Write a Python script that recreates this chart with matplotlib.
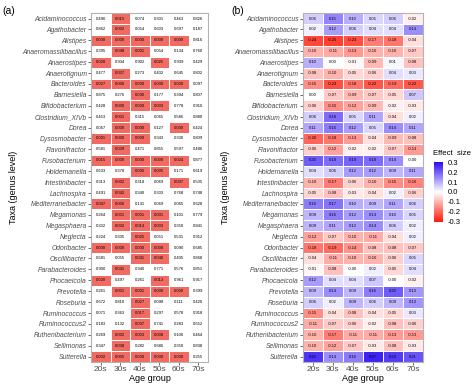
import numpy as np
import matplotlib
matplotlib.use("Agg")
from matplotlib import pyplot as plt
from matplotlib.colors import LinearSegmentedColormap, ListedColormap, Normalize

plt.rcParams["font.family"] = ["Liberation Sans", "DejaVu Sans"]

taxa = ["Acidaminococcus", "Agathobacter", "Alistipes", "Anaeromassilibacillus",
        "Anaerostipes", "Anaerotignum", "Bacteroides", "Barnesiella",
        "Bifidobacterium", "Clostridium_XIVb", "Dorea", "Dysosmobacter",
        "Flavonifractor", "Fusobacterium", "Holdemanella", "Intestinibacter",
        "Lachnospira", "Mediterraneibacter", "Megamonas", "Megasphaera",
        "Neglecta", "Odoribacter", "Oscillibacter", "Parabacteroides",
        "Phocaeicola", "Prevotella", "Roseburia", "Ruminococcus",
        "Ruminococcus2", "Ruthenibacterium", "Sellimonas", "Sutterella"]
age_groups = ["20s", "30s", "40s", "50s", "60s", "70s"]

# p-values, one row per taxon
p_values = [
    [0.496, 0.015, 0.074, 0.301, 0.463, 0.826],
    [0.862, 0.002, 0.054, 0.603, 0.697, 0.187],
    [0.000, 0.000, 0.000, 0.000, 0.000, 0.816],
    [0.395, 0.048, 0.001, 0.054, 0.134, 0.760],
    [0.028, 0.934, 0.902, 0.025, 0.939, 0.429],
    [0.477, 0.037, 0.273, 0.402, 0.645, 0.802],
    [0.027, 0.000, 0.000, 0.000, 0.000, 0.097],
    [0.875, 0.276, 0.030, 0.177, 0.394, 0.807],
    [0.428, 0.000, 0.000, 0.003, 0.778, 0.910],
    [0.453, 0.001, 0.315, 0.065, 0.586, 0.880],
    [0.067, 0.000, 0.000, 0.127, 0.000, 0.424],
    [0.001, 0.000, 0.000, 0.343, 0.330, 0.809],
    [0.581, 0.039, 0.471, 0.855, 0.597, 0.486],
    [0.015, 0.000, 0.000, 0.000, 0.024, 0.877],
    [0.633, 0.378, 0.006, 0.005, 0.171, 0.619],
    [0.313, 0.002, 0.318, 0.069, 0.037, 0.505],
    [0.491, 0.042, 0.340, 0.303, 0.768, 0.748],
    [0.047, 0.006, 0.141, 0.069, 0.065, 0.628],
    [0.264, 0.001, 0.001, 0.001, 0.101, 0.779],
    [0.302, 0.032, 0.014, 0.003, 0.350, 0.841],
    [0.224, 0.305, 0.025, 0.051, 0.531, 0.912],
    [0.000, 0.000, 0.000, 0.008, 0.090, 0.685],
    [0.681, 0.055, 0.041, 0.040, 0.405, 0.868],
    [0.900, 0.041, 0.946, 0.771, 0.576, 0.851],
    [0.020, 0.497, 0.261, 0.013, 0.961, 0.917],
    [0.261, 0.001, 0.001, 0.000, 0.000, 0.399],
    [0.672, 0.810, 0.027, 0.098, 0.111, 0.420],
    [0.071, 0.363, 0.017, 0.297, 0.578, 0.918],
    [0.183, 0.132, 0.037, 0.741, 0.283, 0.652],
    [0.269, 0.002, 0.003, 0.008, 0.106, 0.464],
    [0.347, 0.038, 0.282, 0.686, 0.350, 0.838],
    [0.002, 0.005, 0.000, 0.000, 0.000, 0.255],
]

# effect sizes, one row per taxon
effect_size = [
    [0.06, 0.15, 0.10, 0.05, 0.06, -0.02],
    [0.02, 0.12, 0.06, 0.04, 0.04, 0.14],
    [-0.24, -0.25, -0.23, -0.17, -0.18, -0.04],
    [-0.10, -0.11, -0.13, -0.10, -0.10, -0.07],
    [0.10, 0.00, -0.01, -0.09, 0.01, -0.08],
    [-0.08, -0.10, -0.05, -0.06, 0.04, 0.03],
    [-0.15, -0.23, -0.18, -0.22, -0.19, -0.22],
    [0.00, -0.07, -0.09, -0.07, -0.05, 0.07],
    [-0.06, -0.15, -0.12, -0.09, -0.02, -0.03],
    [0.06, 0.18, 0.05, 0.11, -0.04, 0.02],
    [0.11, 0.16, 0.12, 0.05, 0.14, 0.11],
    [-0.20, -0.18, -0.13, -0.04, -0.09, -0.08],
    [-0.06, -0.12, -0.02, -0.02, -0.07, -0.13],
    [0.20, 0.18, 0.19, 0.18, 0.14, -0.00],
    [0.04, 0.06, 0.12, 0.12, 0.09, 0.11],
    [-0.10, -0.17, -0.06, -0.10, -0.15, -0.16],
    [-0.05, -0.08, -0.03, -0.04, 0.02, -0.06],
    [0.16, 0.17, 0.10, 0.09, 0.11, 0.06],
    [0.09, 0.16, 0.12, 0.14, 0.10, 0.05],
    [0.09, 0.11, 0.12, 0.14, 0.06, 0.02],
    [-0.12, -0.07, -0.10, -0.11, -0.04, 0.02],
    [-0.18, -0.19, -0.14, -0.08, -0.08, -0.07],
    [-0.04, -0.11, -0.10, -0.10, -0.06, 0.05],
    [-0.01, -0.08, -0.00, 0.02, -0.05, 0.04],
    [0.12, 0.04, 0.04, 0.07, -0.00, -0.02],
    [0.09, 0.14, 0.09, 0.16, 0.20, 0.13],
    [0.06, 0.02, 0.09, 0.06, 0.09, 0.13],
    [-0.15, -0.04, -0.08, -0.04, -0.05, 0.03],
    [-0.11, -0.07, -0.06, -0.02, -0.08, -0.06],
    [-0.10, -0.17, -0.11, -0.11, -0.13, -0.13],
    [-0.10, -0.12, -0.07, -0.03, -0.08, -0.03],
    [0.25, 0.14, 0.16, 0.27, 0.24, 0.21],
]

GRAY = "#4d4d4d"
SPINE = "#b3b3b3"


def style_axes(ax):
    n_rows, n_cols = len(taxa), len(age_groups)
    ax.set_xlim(0, n_cols)
    ax.set_ylim(n_rows, 0)
    ax.set_xticks(np.arange(n_cols) + 0.5)
    ax.set_xticklabels(age_groups, fontsize=6, color=GRAY)
    ax.set_yticks(np.arange(n_rows) + 0.5)
    ax.set_yticklabels(taxa, fontsize=4.9, color=GRAY, style="italic")
    ax.tick_params(length=2, width=0.5, color="#333333", pad=1)
    ax.set_xlabel("Age group", fontsize=6.5, labelpad=0.5)
    ax.set_ylabel("Taxa (genus level)", fontsize=6.5, labelpad=3)
    for s in ax.spines.values():
        s.set_color(SPINE)
        s.set_linewidth(0.8)


def main():
    fig = plt.figure(figsize=(4.74, 3.84), dpi=100)
    pv = np.array(p_values)
    es = np.array(effect_size)

    # panel (a): p-values, significant cells in red
    ax_a = fig.add_axes([0.192, 0.057, 0.247, 0.909])
    sig = (pv < 0.05).astype(float)
    ax_a.pcolormesh(sig, cmap=ListedColormap(["white", "#f26b63"]), vmin=0, vmax=1,
                    edgecolors="white", linewidth=0.6)
    for i in range(pv.shape[0]):
        for j in range(pv.shape[1]):
            ax_a.text(j + 0.5, i + 0.5, f"{pv[i, j]:.3f}", ha="center", va="center",
                      fontsize=3.0, color="black")
    style_axes(ax_a)

    # panel (b): effect sizes
    ax_b = fig.add_axes([0.639, 0.057, 0.253, 0.909])
    cmap = LinearSegmentedColormap.from_list("rwb", ["#ff1a0a", "#ffffff", "#2a0cf5"])
    norm = Normalize(vmin=-0.3, vmax=0.3)
    mesh = ax_b.pcolormesh(es, cmap=cmap, norm=norm, edgecolors="white", linewidth=0.4)
    for i in range(es.shape[0]):
        for j in range(es.shape[1]):
            ax_b.text(j + 0.5, i + 0.5, f"{es[i, j]:.2f}", ha="center", va="center",
                      fontsize=3.0, color="black")
    style_axes(ax_b)

    cax = fig.add_axes([0.916, 0.422, 0.019, 0.156])
    cb = fig.colorbar(mesh, cax=cax, ticks=[0.3, 0.2, 0.1, 0.0, -0.1, -0.2, -0.3])
    cb.ax.tick_params(labelsize=5.5, length=2, width=0.5, color="white", pad=1.5)
    cb.ax.set_yticklabels(["0.3", "0.2", "0.1", "0.0", "-0.1", "-0.2", "-0.3"])
    cb.outline.set_visible(False)
    fig.text(0.914, 0.592, "Effect  size", fontsize=5.6, ha="left", va="bottom")

    fig.text(0.005, 0.972, "(a)", fontsize=7.5, ha="left", va="center")
    fig.text(0.488, 0.972, "(b)", fontsize=7.5, ha="left", va="center")

    fig.savefig("out.png", dpi=100)


if __name__ == "__main__":
    main()
